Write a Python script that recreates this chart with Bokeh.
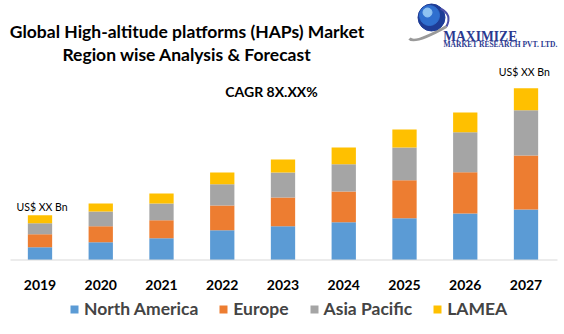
from bokeh.plotting import figure
from bokeh.models import FactorRange, Range1d, Label, Legend, LegendItem
from bokeh.core.properties import value
from bokeh.embed import file_html
from bokeh.resources import INLINE

years = ["2019", "2020", "2021", "2022", "2023", "2024", "2025", "2026", "2027"]
regions = ["North America", "Europe", "Asia Pacific", "LAMEA"]
north_america = [12.8, 17.8, 21.8, 29.8, 33.8, 37.8, 41.8, 46.5, 50.5]
europe = [13.0, 16.0, 18.0, 24.7, 28.7, 30.7, 38.0, 41.3, 54.0]
asia_pacific = [11.0, 14.7, 16.7, 21.3, 25.0, 27.3, 32.7, 40.0, 45.3]
lamea = [8.0, 8.0, 10.0, 11.7, 13.0, 16.7, 18.0, 19.7, 22.0]
colors = ["#5B9BD5", "#ED7D31", "#A5A5A5", "#FFC000"]

title_1 = "Global High-altitude platforms (HAPs) Market"
title_2 = "Region wise Analysis & Forecast"
cagr_text = "CAGR 8X.XX%"
value_text = "US$ XX Bn"

W, H = 564, 334
LEFT = 1
PAD = 0.0297
p = figure(width=W, height=H, output_backend="svg", toolbar_location=None,
           x_range=FactorRange(factors=years, range_padding=PAD),
           y_range=Range1d(-74.5, 259.5),
           min_border_left=LEFT, min_border_right=0, min_border_top=0, min_border_bottom=0)
p.axis.visible = False
p.grid.visible = False
p.outline_line_color = None
p.background_fill_color = "white"
p.border_fill_color = "white"

# helper: pixel x -> synthetic categorical coordinate ; pixel y via extra range
n = len(years)
half = n * PAD / 2
step = (W - LEFT) / (n + 2 * half)
def sx(px):
    return (px - LEFT) / step - half

p.extra_y_ranges = {"py": Range1d(H, 0)}

data = {"year": years, "North America": north_america, "Europe": europe,
        "Asia Pacific": asia_pacific, "LAMEA": lamea}
rs = p.vbar_stack(regions, x="year", width=0.4, color=colors, line_color=None, source=data)

# baseline axis line
p.segment(x0=[sx(10)], y0=[259.5], x1=[sx(557)], y1=[259.5], line_color="#D9D9D9", line_width=1,
          y_range_name="py")

# year labels
p.text(x=years, y=[284.3] * n, text=years, text_align="center", text_baseline="alphabetic",
       text_font=value("Lato"), text_font_style="bold", text_font_size="14px", text_color="#000000",
       y_range_name="py")

def lab(x, y, text, size, style="normal", align="left", font="Lato", color="#000000"):
    p.add_layout(Label(x=sx(x), y=y, text=text, y_range_name="py",
                       text_font=font, text_font_size=size, text_font_style=style,
                       text_align=align, text_baseline="alphabetic", text_color=color))

lab(186.5, 30.6, title_1, "17.5px", "bold", "center")
lab(186.5, 53.8, title_2, "17.5px", "bold", "center")
lab(271, 90.7, cagr_text, "14px", "bold", "center")
lab(16, 206.7, value_text, "10.5px")
lab(498.3, 71, value_text, "10.5px")

# logo
def pq(x0, y0, x1, y1, cx, cy, color, w):
    p.quadratic(x0=[sx(x0)], y0=[y0], x1=[sx(x1)], y1=[y1], cx=[sx(cx)], cy=[cy],
                line_color=color, line_width=w, y_range_name="py")
pq(409, 38, 446, 26, 414, 44, "#9A9A9A", 3)
for cx_, cy_, s, c in [(431, 17, 27, "#1E3C96"), (429, 15, 20, "#2F6FCF"), (427, 12, 9, "#8FC3F2")]:
    p.scatter(x=[sx(cx_)], y=[cy_], size=s, color=c, y_range_name="py")
pq(440, 8, 446, 26, 452, 14, "#4B4FA8", 2)
lab(442.7, 35.7, "MAXIMIZE", "13.6px", "bold", "left", "Liberation Serif", "#2B3990")
lab(443, 44.2, "MARKET RESEARCH PVT. LTD.", "7.5px", "bold", "left", "Liberation Serif", "#2B3990")

legend = Legend(items=[LegendItem(label=r, renderers=[rend]) for r, rend in zip(regions, rs)],
                orientation="horizontal", location=(68, 15), glyph_width=10, glyph_height=10,
                label_standoff=5, spacing=20, padding=0, margin=0, border_line_color=None,
                background_fill_alpha=0, label_text_font="Lato", label_text_font_style="bold",
                label_text_font_size="17.5px", label_height=20)
p.add_layout(legend)

open("out.html", "w").write(file_html(p, INLINE))
